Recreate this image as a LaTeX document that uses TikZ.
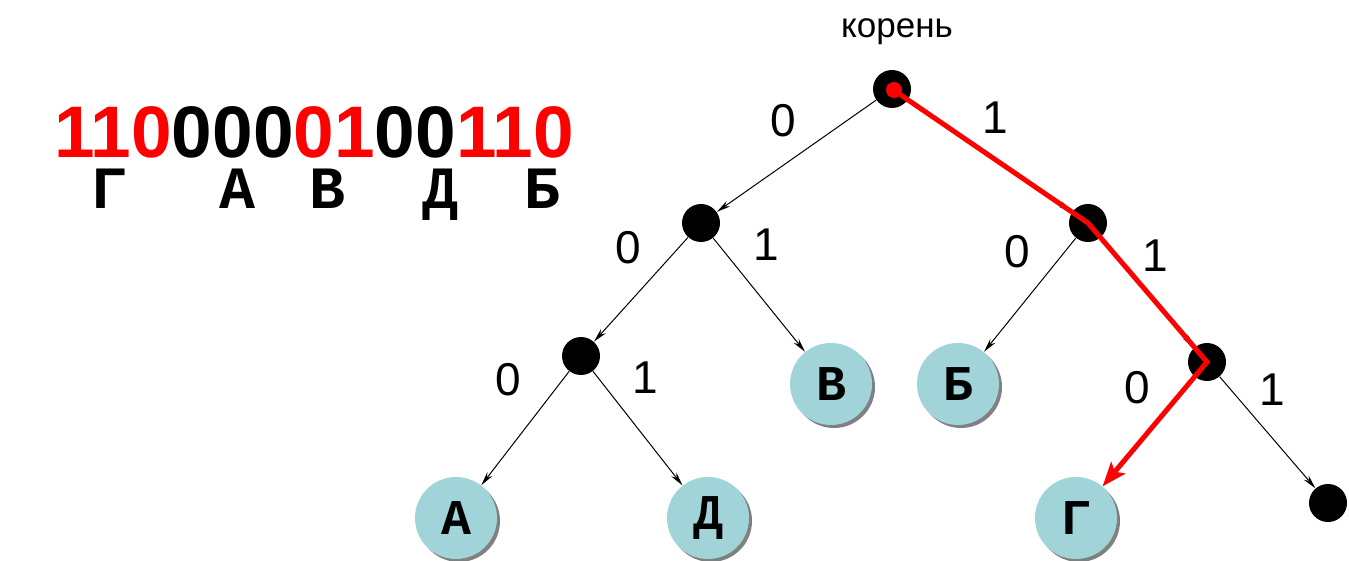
\documentclass[tikz,border=0pt]{standalone}
\usepackage{fontspec}
\setmainfont{Liberation Sans}
\newfontfamily\monofnt{Liberation Mono}
\usepackage{tikz}
\usetikzlibrary{arrows.meta, shadows}
\definecolor{leafcol}{HTML}{A0D4D8}
\definecolor{hotred}{HTML}{FF0000}

\begin{document}
\begin{tikzpicture}[x=0.5pt, y=-0.5pt,
    knot/.style={circle, fill=black, minimum size=19pt, inner sep=0pt},
    leaf/.style={circle, fill=leafcol, minimum size=41pt, inner sep=0pt,
      font=\monofnt\bfseries\fontsize{25}{25}\selectfont,
      drop shadow={shadow xshift=1.5pt, shadow yshift=-1.5pt, fill=gray, opacity=1}},
    bitlbl/.style={font=\fontsize{23}{23}\selectfont, inner sep=0pt},
    letter/.style={font=\monofnt\bfseries\fontsize{30}{30}\selectfont, inner sep=0pt,
      anchor=base, text height=17pt},
    arr/.style={-{Stealth[length=7pt, width=3.2pt]}, line width=0.5pt},
    hotpath/.style={hotred, line width=2.5pt, line join=miter}
  ]
    \useasboundingbox (0,0) rectangle (1349,561);

    % code word and letters
    \node[anchor=base, inner sep=0pt, text depth=0pt,
      font=\bfseries\fontsize{36.5}{40}\selectfont] (code) at (314,158)
      {\textcolor{hotred}{110}000\textcolor{hotred}{01}00\textcolor{hotred}{110}};
    \node[letter] (cG) at (110,209) {Г};
    \node[letter] (cA) at (237,209) {А};
    \node[letter] (cV) at (327,209) {В};
    \node[letter] (cD) at (440,209) {Д};
    \node[letter] (cB) at (542,209) {Б};

    % tree
    \node[font=\fontsize{17.5}{18}\selectfont] (rootlbl) at (897,32) {корень};
    \node[knot] (root) at (892,89) {};
    \node[knot] (n0) at (701,223) {};
    \node[knot] (n1) at (1088,223) {};
    \node[knot] (n00) at (581,356) {};
    \node[knot] (n11) at (1207,362) {};
    \node[knot] (n111) at (1328,503) {};
    \node[leaf] (lV) at (831,384) {В};
    \node[leaf] (lB) at (958,384) {Б};
    \node[leaf] (lA) at (456,518) {А};
    \node[leaf] (lD) at (708,518) {Д};
    \node[leaf] (lG) at (1076,518) {Г};

    \draw[arr] (root) -- (n0);
    \draw[arr] (root) -- (n1);
    \draw[arr] (n0) -- (n00);
    \draw[arr] (n0) -- (lV);
    \draw[arr] (n00) -- (lA);
    \draw[arr] (n00) -- (lD);
    \draw[arr] (n1) -- (lB);
    \draw[arr] (n1) -- (n11);
    \draw[arr] (n11) -- (lG);
    \draw[arr] (n11) -- (n111);

    % bit labels
    \node[bitlbl] (b0) at (783,121) {0};
    \node[bitlbl] (b1) at (995,118) {1};
    \node[bitlbl] (b00) at (628,248) {0};
    \node[bitlbl] (b01) at (766,245) {1};
    \node[bitlbl] (b10) at (1017,252) {0};
    \node[bitlbl] (b11) at (1155,256) {1};
    \node[bitlbl] (b000) at (508,380) {0};
    \node[bitlbl] (b001) at (645,378) {1};
    \node[bitlbl] (b110) at (1137,388) {0};
    \node[bitlbl] (b111) at (1272,390) {1};

    % path for the first letter
    \draw[hotpath, -{Stealth[length=12pt, width=9pt, inset=2.5pt]}]
      (root.center) -- (n1.center) -- (n11.center) -- (lG);
    \node[circle, fill=hotred, minimum size=8pt, inner sep=0pt] (start) at (894,90) {};
\end{tikzpicture}
\end{document}
